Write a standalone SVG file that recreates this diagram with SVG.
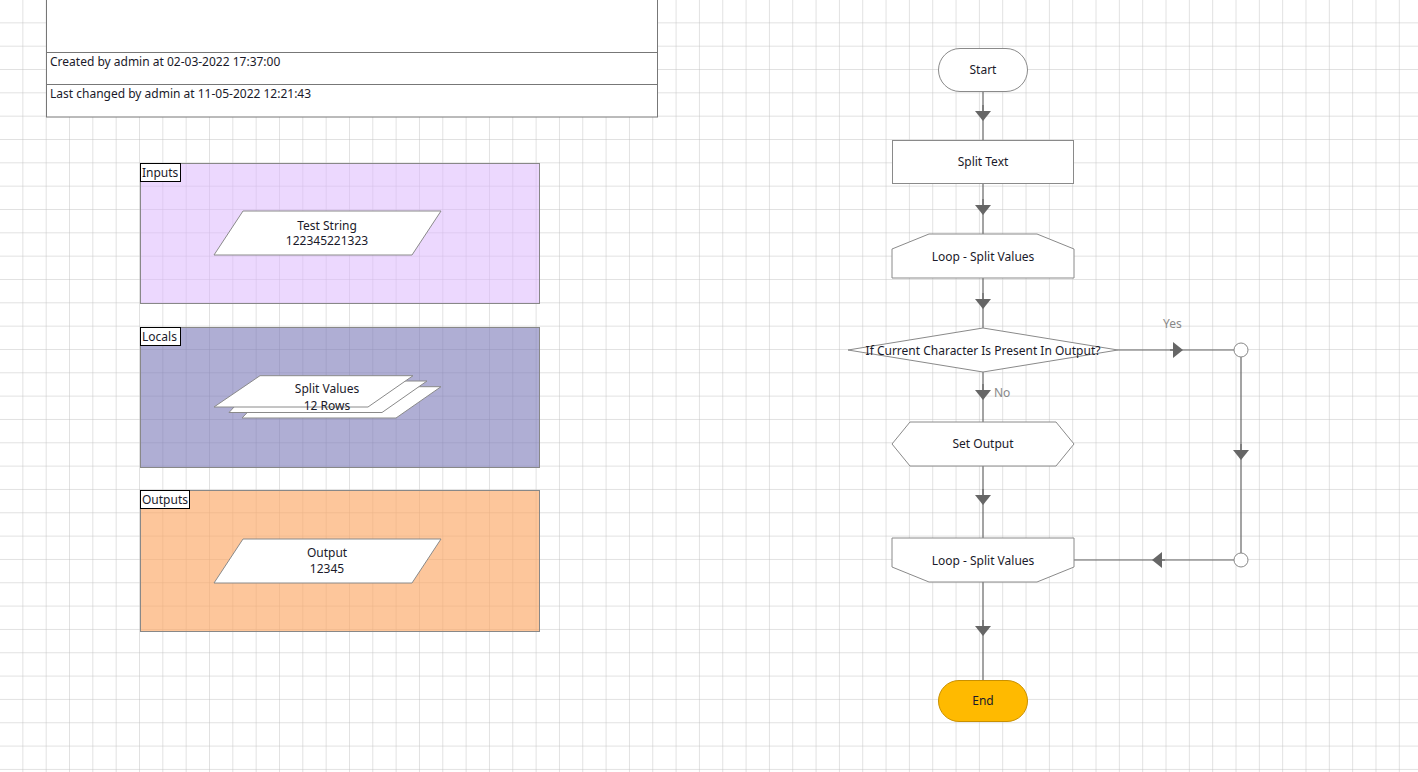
<svg xmlns="http://www.w3.org/2000/svg" width="1418" height="772" viewBox="0 0 1418 772">
<style>
text{font-family:"Noto Sans","Open Sans",sans-serif;font-size:12px;fill:#1a1a2a}
.n{fill:#fff;stroke:#8a8a8a;stroke-width:1}
.c{stroke:#666;stroke-width:1.2;fill:none}
.lbl{fill:#888}
</style>
<defs>
<pattern id="g" width="23.33" height="23.33" patternUnits="userSpaceOnUse">
<path d="M23.33 0V23.33M0 23.33H23.33" stroke="#c4c4c4" stroke-width="1" fill="none"/>
</pattern>
<marker id="a" viewBox="0 0 10 16" refX="5" refY="8" markerWidth="10" markerHeight="16" markerUnits="userSpaceOnUse" orient="auto"><path d="M0 0L10 8L0 16Z" fill="#666"/></marker>
</defs>
<rect width="1418" height="772" fill="#fff"/>
<rect width="1418" height="772" fill="url(#g)"/>
<g id="header">
<rect x="46.5" y="-1" width="611" height="118" fill="#fff" stroke="#777"/>
<line x1="46.5" y1="52.5" x2="657.5" y2="52.5" stroke="#777"/>
<line x1="46.5" y1="84.5" x2="657.5" y2="84.5" stroke="#777"/>
<text x="50" y="66">Created by admin at 02-03-2022 17:37:00</text>
<text x="50" y="98">Last changed by admin at 11-05-2022 12:21:43</text>
</g>
<g id="inputs">
<rect x="140.5" y="163.5" width="399" height="140" fill="#dcb8fd" fill-opacity="0.55" stroke="#888"/>
<rect x="140.5" y="163.5" width="40" height="18" fill="#fff" stroke="#000"/>
<text x="142" y="177">Inputs</text>
<polygon class="n" points="243,211 441,211 412,255 214,255"/>
<text x="327" y="230" text-anchor="middle">Test String</text>
<text x="327" y="245" text-anchor="middle">122345221323</text>
</g>
<g id="locals">
<rect x="140.5" y="327.5" width="399" height="140" fill="#7a78b8" fill-opacity="0.6" stroke="#888"/>
<rect x="140.5" y="327.5" width="40" height="18" fill="#fff" stroke="#000"/>
<text x="142" y="341">Locals</text>
<polygon class="n" points="272,386.7 441,386.7 396,418 242,418"/>
<polygon class="n" points="258,381 427,381 382,412.5 229,412.5"/>
<polygon class="n" points="260,375.7 413,375.7 368,407 214,407"/>
<text x="327" y="393" text-anchor="middle">Split Values</text>
<text x="327" y="410" text-anchor="middle">12 Rows</text>
</g>
<g id="outputs">
<rect x="140.5" y="490.5" width="399" height="141" fill="#fca865" fill-opacity="0.65" stroke="#888"/>
<rect x="140.5" y="490.5" width="49" height="18" fill="#fff" stroke="#000"/>
<text x="142" y="504">Outputs</text>
<polygon class="n" points="243,539 441,539 412,583 214,583"/>
<text x="327" y="557" text-anchor="middle">Output</text>
<text x="327" y="573" text-anchor="middle">12345</text>
</g>
<g id="connectors">
<line class="c" x1="983" y1="92" x2="983" y2="140"/>
<line class="c" x1="983" y1="105" x2="983" y2="116" marker-end="url(#a)"/>
<line class="c" x1="983" y1="184" x2="983" y2="234"/>
<line class="c" x1="983" y1="199" x2="983" y2="210" marker-end="url(#a)"/>
<line class="c" x1="983" y1="278" x2="983" y2="328"/>
<line class="c" x1="983" y1="293" x2="983" y2="304" marker-end="url(#a)"/>
<line class="c" x1="983" y1="372" x2="983" y2="422"/>
<line class="c" x1="983" y1="384" x2="983" y2="395" marker-end="url(#a)"/>
<line class="c" x1="983" y1="466" x2="983" y2="538"/>
<line class="c" x1="983" y1="489" x2="983" y2="500" marker-end="url(#a)"/>
<line class="c" x1="983" y1="582" x2="983" y2="680"/>
<line class="c" x1="983" y1="620" x2="983" y2="631" marker-end="url(#a)"/>
<line class="c" x1="1118" y1="350" x2="1234" y2="350"/>
<line class="c" x1="1170" y1="350" x2="1178" y2="350" marker-end="url(#a)"/>
<line class="c" x1="1241" y1="357" x2="1241" y2="553"/>
<line class="c" x1="1241" y1="444" x2="1241" y2="455" marker-end="url(#a)"/>
<line class="c" x1="1234" y1="560" x2="1074" y2="560"/>
<line class="c" x1="1165" y1="560" x2="1157" y2="560" marker-end="url(#a)"/>
<circle cx="1241" cy="350" r="7" fill="#fff" stroke="#888"/>
<circle cx="1241" cy="560" r="7" fill="#fff" stroke="#888"/>
<text class="lbl" x="1163" y="328">Yes</text>
<text class="lbl" x="994" y="397">No</text>
</g>
<g id="start"><rect class="n" x="938.5" y="48.5" width="89" height="43" rx="21.5"/><text x="983" y="74" text-anchor="middle">Start</text></g>
<g id="split"><rect class="n" x="892.5" y="140.5" width="181" height="43"/><text x="983" y="166" text-anchor="middle">Split Text</text></g>
<g id="loop1"><polygon class="n" points="929,234 1037,234 1074,249 1074,278 892,278 892,249"/><text x="983" y="261" text-anchor="middle">Loop - Split Values</text></g>
<g id="decision"><polygon class="n" points="983,328 1118,350 983,372 848,350"/><text x="983" y="355" text-anchor="middle">If Current Character Is Present In Output?</text></g>
<g id="setoutput"><polygon class="n" points="910,422 1056,422 1074,444 1056,466 910,466 892,444"/><text x="983" y="448" text-anchor="middle">Set Output</text></g>
<g id="loop2"><polygon class="n" points="892,538 1074,538 1074,567 1037,582 929,582 892,567"/><text x="983" y="565" text-anchor="middle">Loop - Split Values</text></g>
<g id="end"><rect x="938.5" y="680.5" width="89" height="41" rx="20.5" fill="#ffba00" stroke="#c99000"/><text x="983" y="705" text-anchor="middle">End</text></g>
</svg>
